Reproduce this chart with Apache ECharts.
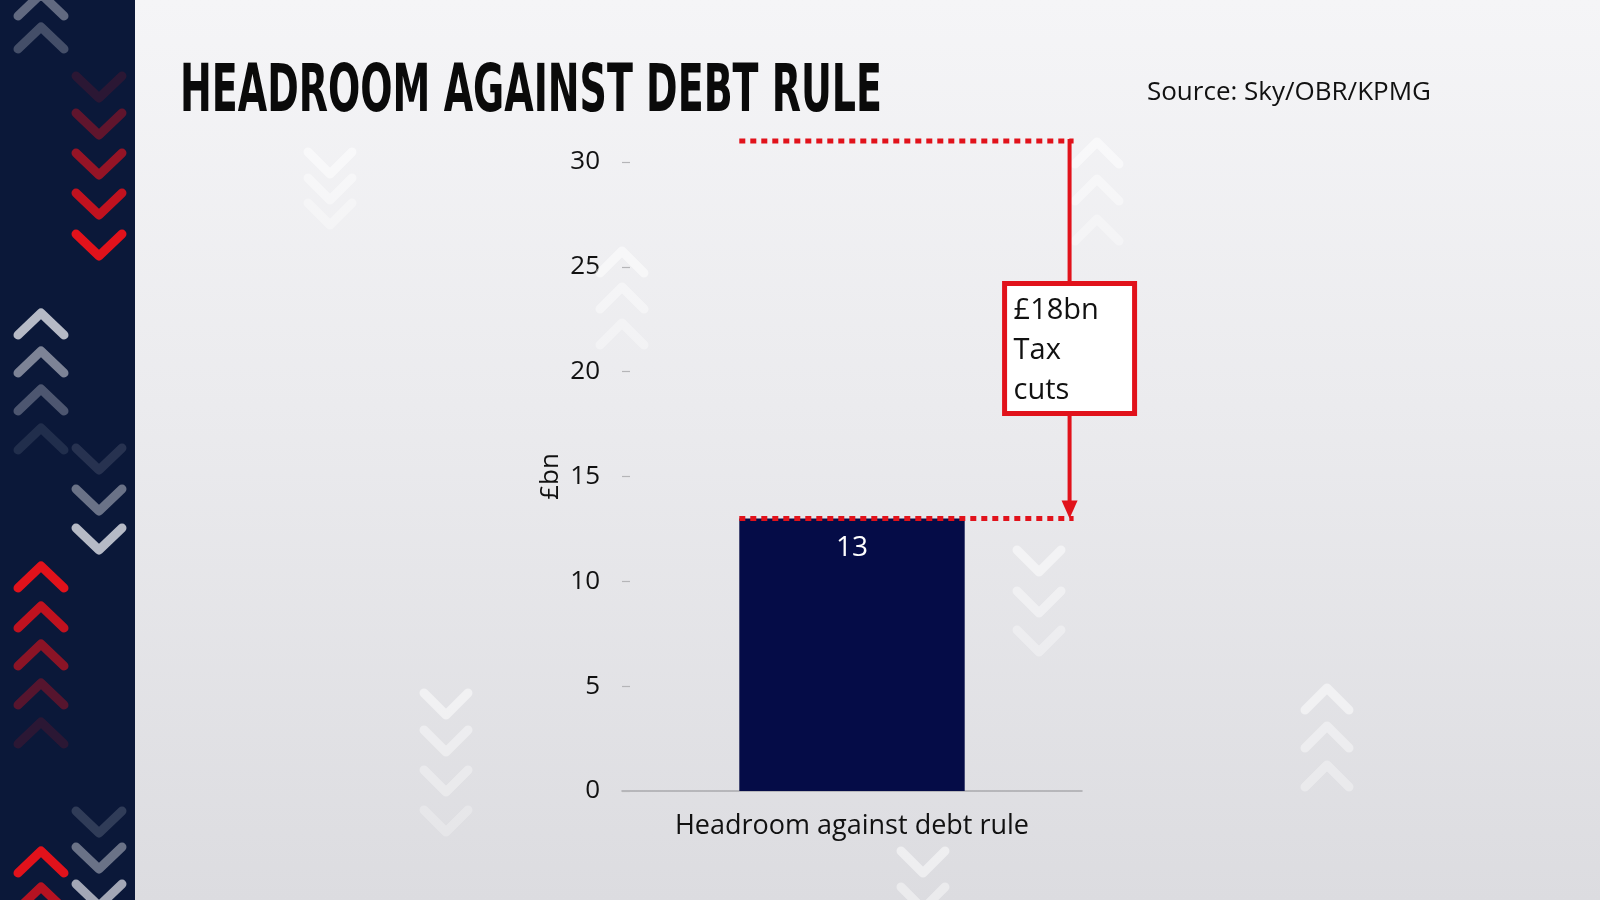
<!DOCTYPE html>
<html>
<head>
<meta charset="utf-8">
<script src="https://cdn.jsdelivr.net/npm/echarts@6/dist/echarts.min.js"></script>
<style>
html,body{margin:0;padding:0;}
body{width:1600px;height:900px;background:linear-gradient(180deg,#f5f5f7 0%,#ebebee 45%,#dcdce0 100%);}
#chart{width:1600px;height:900px;}
</style>
</head>
<body>
<div id="chart"></div>
<script>
// ---- data ----
const categories = ['Headroom against debt rule'];
const headroom = [13];
const taxCuts = [18];
const taxLabel = ['Tax', 'cuts'];
const yMin = 0, yMax = 30, yInterval = 5;
const titleText = 'HEADROOM AGAINST DEBT RULE';
const sourceText = 'Source: Sky/OBR/KPMG';
const yName = '£bn';

const RED = '#e1121b';
const NAVY = '#050c47';
const FONT = "'Open Sans', 'Noto Sans', sans-serif";

// ---- decorative chevrons ----
function chevron(cx, cy, dir, color, op, w, h, lw) {
  w = w || 23; h = h || 11; lw = lw || 9;
  const pts = dir === 'up'
    ? [[cx - w, cy + h], [cx, cy - h], [cx + w, cy + h]]
    : [[cx - w, cy - h], [cx, cy + h], [cx + w, cy - h]];
  return {
    type: 'polyline', silent: true, z: 1,
    shape: { points: pts },
    style: { stroke: color, lineWidth: lw, lineCap: 'round', lineJoin: 'round', fill: null, opacity: op }
  };
}
const GREY = '#c9ccd6';
const deco = [];
deco.push({ type: 'rect', silent: true, z: 0, shape: { x: 0, y: 0, width: 135, height: 900 }, style: { fill: '#0b1839' } });
[[5, GREY, 0.45], [38, GREY, 0.3]].forEach(a => deco.push(chevron(41, a[0], 'up', a[1], a[2])));
[[324, 0.9], [362, 0.6], [400, 0.35], [439, 0.12]].forEach(a => deco.push(chevron(41, a[0], 'up', GREY, a[1])));
[[577, 1], [617, 0.85], [655, 0.6], [694, 0.35], [733, 0.15]].forEach(a => deco.push(chevron(41, a[0], 'up', RED, a[1])));
[[862, 1], [898, 0.8]].forEach(a => deco.push(chevron(41, a[0], 'up', RED, a[1])));
[[87, 0.15], [124, 0.4], [164, 0.65], [204, 0.85], [245, 1]].forEach(a => deco.push(chevron(99, a[0], 'down', RED, a[1])));
[[459, 0.15], [500, 0.5], [539, 0.9]].forEach(a => deco.push(chevron(99, a[0], 'down', GREY, a[1])));
[[822, 0.2], [858, 0.5], [895, 0.8]].forEach(a => deco.push(chevron(99, a[0], 'down', GREY, a[1])));
// faint background chevrons
const faint = [
  [330, [163, 189, 214], 'down'],
  [622, [262, 298, 334], 'up'],
  [1097, [153, 190, 230], 'up'],
  [446, [704, 741, 781, 821], 'down'],
  [1039, [561, 602, 641], 'down'],
  [1327, [699, 737, 776], 'up'],
  [923, [862, 898], 'down']
];
faint.forEach(f => f[1].forEach((y, i) => deco.push(chevron(f[0], y, f[2], '#ffffff', 0.5 - i * 0.08, 22, 11, 9))));

// titles
deco.push({
  type: 'text', x: 180, y: 94, scaleX: 0.64, z: 5, silent: true,
  style: { text: titleText, fill: '#0a0a0a', font: "bold 66px 'Liberation Sans Narrow', 'DejaVu Sans Condensed', sans-serif", verticalAlign: 'middle', align: 'left' }
});
deco.push({
  type: 'text', x: 1431, y: 93, z: 5, silent: true,
  style: { text: sourceText, fill: '#111', font: "26px " + FONT, verticalAlign: 'middle', align: 'right' }
});

const chart = echarts.init(document.getElementById('chart'), null, { renderer: 'canvas' });
chart.setOption({
  backgroundColor: 'transparent',
  animation: false,
  graphic: deco,
  grid: { left: 622, right: 518, top: 162, bottom: 109, containLabel: false },
  xAxis: {
    type: 'category',
    data: categories,
    axisLine: { show: true, lineStyle: { color: '#a9a9ad', width: 1.5 } },
    axisTick: { show: false },
    axisLabel: { color: '#111', fontSize: 27, fontFamily: FONT, margin: 22 }
  },
  yAxis: {
    type: 'value',
    min: yMin, max: yMax, interval: yInterval,
    name: yName, nameLocation: 'middle', nameRotate: 90, nameGap: 58,
    nameTextStyle: { color: '#111', fontSize: 26, fontFamily: FONT },
    axisLine: { show: false },
    axisTick: { show: true, inside: true, length: 8, lineStyle: { color: '#b5b5b8', width: 1.2 } },
    axisLabel: { color: '#111', fontSize: 26, fontFamily: FONT, margin: 22 },
    splitLine: { show: false }
  },
  series: [
    {
      type: 'bar',
      data: headroom,
      barWidth: '49%',
      itemStyle: { color: NAVY },
      z: 3,
      label: { show: true, position: 'insideTop', distance: 16, color: '#fff', fontSize: 28, fontFamily: FONT }
    },
    {
      type: 'custom',
      z: 6,
      clip: false,
      data: headroom.map((v, i) => [i, v, taxCuts[i]]),
      renderItem: function (params, api) {
        const cat = api.value(0), base = api.value(1), add = api.value(2);
        const pB = api.coord([cat, base]);
        const pT = api.coord([cat, base + add]);
        const band = api.size([1, 0])[0];
        const xl = pB[0] - band * 0.245;
        const xa = pB[0] + band * 0.473;
        const xe = xa + 4;
        const dash = { stroke: RED, lineWidth: 5, lineDash: [6, 5], fill: null };
        const boxW = 130, boxH = 130;
        const boxCy = pT[1] + (pB[1] - pT[1]) * 0.55;
        const label = '£' + add + 'bn\n' + taxLabel.join('\n');
        return {
          type: 'group',
          children: [
            { type: 'line', shape: { x1: xl, y1: pB[1], x2: xe, y2: pB[1] }, style: dash },
            { type: 'line', shape: { x1: xl, y1: pT[1], x2: xe, y2: pT[1] }, style: dash },
            { type: 'line', shape: { x1: xa, y1: pT[1] - 2, x2: xa, y2: pB[1] - 14 }, style: { stroke: RED, lineWidth: 4 } },
            { type: 'polygon', shape: { points: [[xa - 8, pB[1] - 18], [xa + 8, pB[1] - 18], [xa, pB[1]]] }, style: { fill: RED } },
            { type: 'rect', shape: { x: xa - boxW / 2, y: boxCy - boxH / 2, width: boxW, height: boxH }, style: { fill: '#fff', stroke: RED, lineWidth: 5 } },
            { type: 'text', x: xa - boxW / 2 + 9, y: boxCy + 2, style: { text: label, fill: '#111', font: '29px ' + FONT, lineHeight: 40, verticalAlign: 'middle', align: 'left' } }
          ]
        };
      }
    }
  ]
});
</script>
</body>
</html>
